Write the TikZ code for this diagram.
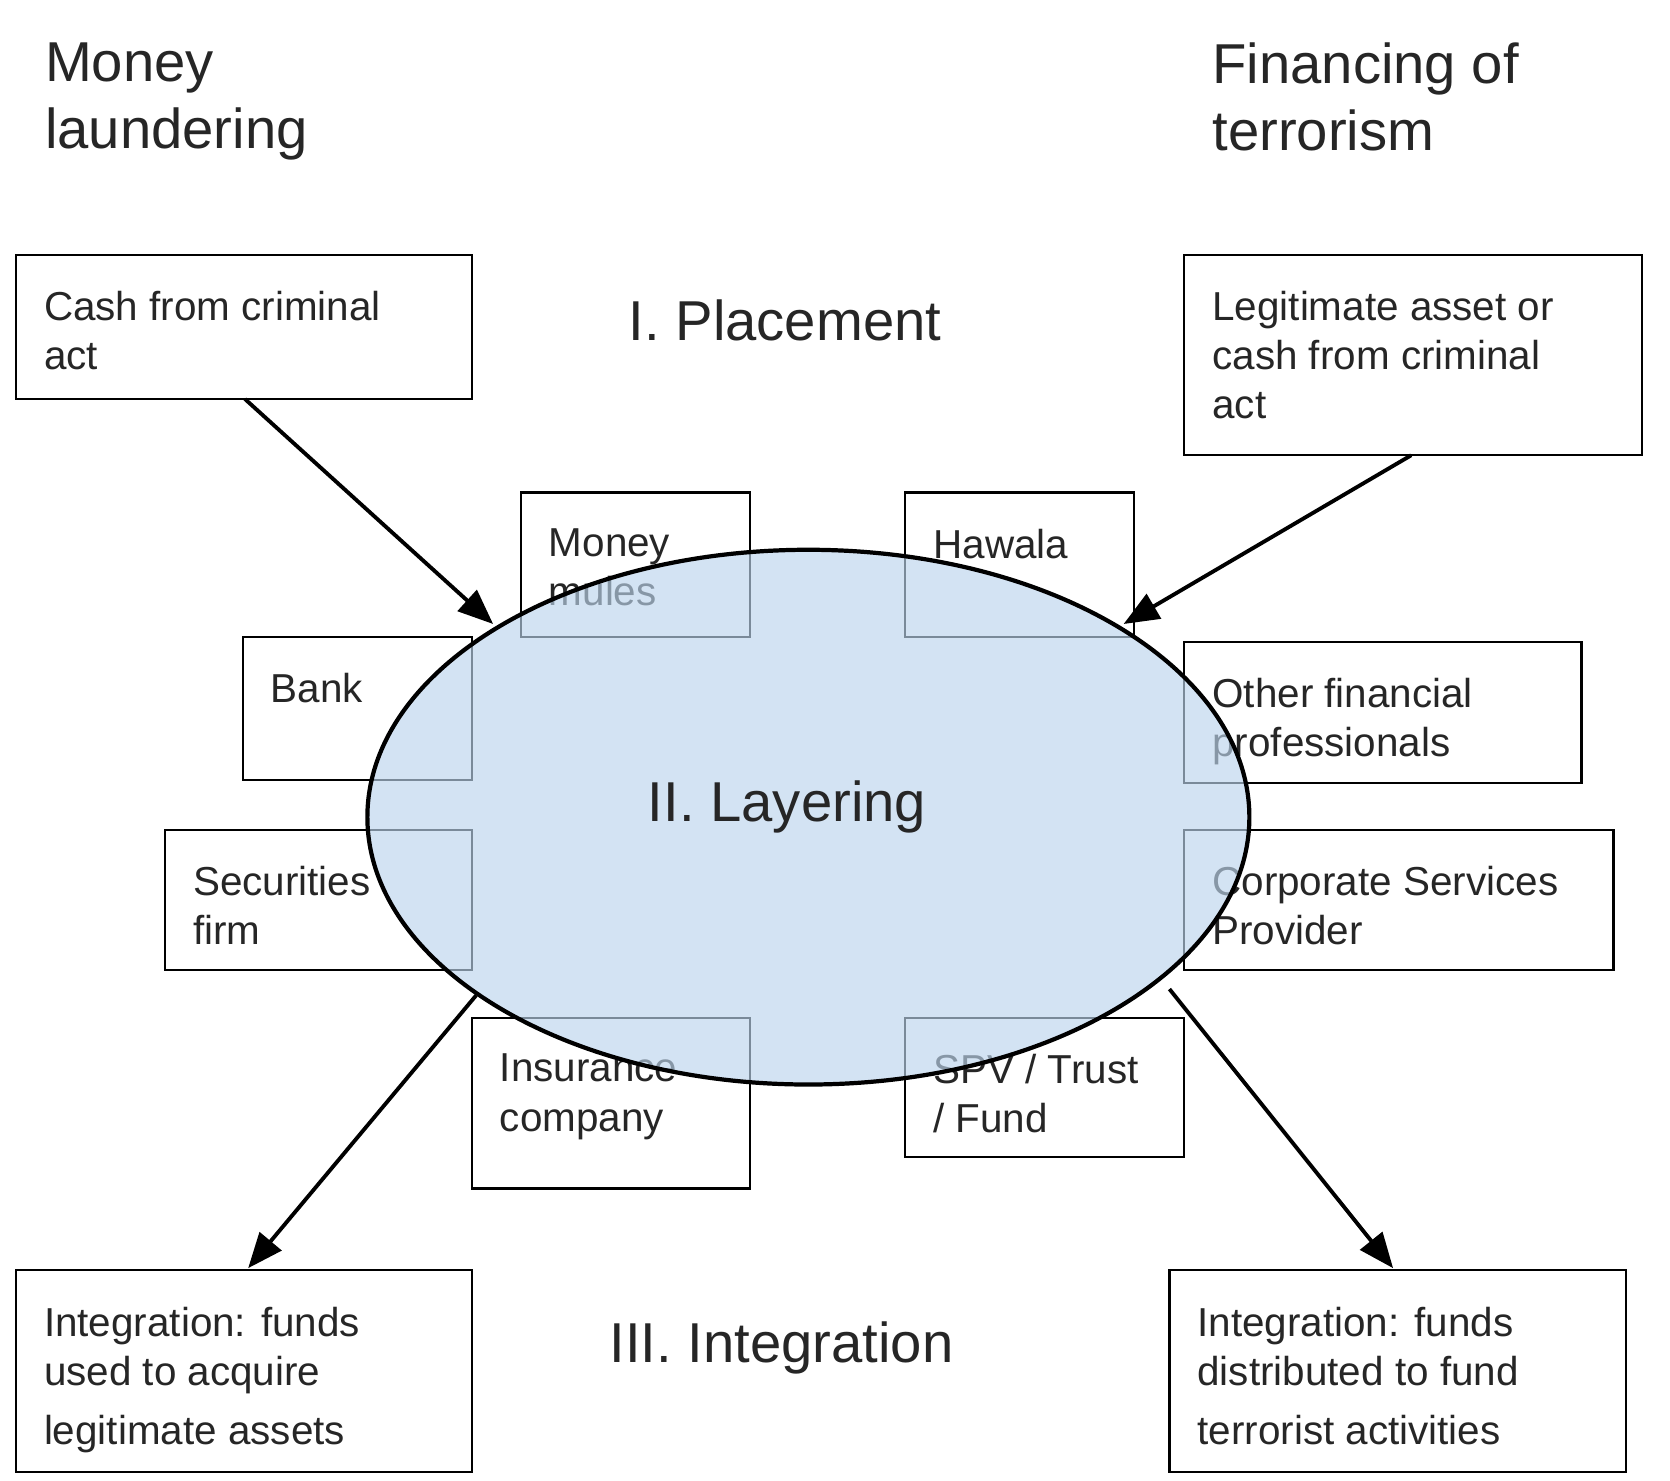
\documentclass[tikz,border=0pt]{standalone}
\usepackage{fontspec}
\setmainfont{Liberation Sans}
\usetikzlibrary{fit,arrows.meta,calc,shapes.geometric}
\definecolor{ellfill}{HTML}{BCD4EC}
\tikzset{
  box/.style={draw=black, line width=1.3pt, inner sep=0pt},
  lbl/.style={anchor=north west, align=left, inner sep=0pt, font=\fontsize{23}{28}\selectfont, text=black!85},
  big/.style={anchor=north west, align=left, inner sep=0pt, font=\fontsize{32}{38}\selectfont, text=black!85},
  arr/.style={line width=2.2pt, -{Triangle[length=20pt,width=16pt]}}
}
\newcommand{\mybox}[6]{%
  \node[box, fit={(#2,#3)(#4,#5)}] (#1) {};
  \node[lbl] at ($(#2,#3)+(26,34)$) {#6};}
\begin{document}
\begin{tikzpicture}[x=0.0213cm, y=-0.02122cm]
\useasboundingbox (0,0) rectangle (1568,1395);
\node[big] (ml) at (42,40) {Money\\laundering};
\node[big] (ft) at (1138,40) {Financing of\\terrorism};
\node[big] (pl) at (590,282) {I. Placement};
\node[big] (ig) at (572,1245) {III. Integration};

\mybox{cash}{15}{240}{443}{376}{Cash from criminal\\act}
\mybox{legit}{1112}{240}{1542}{429}{Legitimate asset or\\cash from criminal\\act}
\mybox{mules}{489}{464}{704}{600}{Money\\mules}
\mybox{hawala}{850}{464}{1065}{600}{Hawala}
\mybox{bank}{228}{600}{443}{735}{Bank}
\mybox{other}{1112}{605}{1485}{738}{Other financial\\professionals}
\mybox{sec}{155}{782}{443}{914}{Securities\\firm}
\mybox{corp}{1112}{782}{1515}{914}{Corporate Services\\Provider}
\mybox{ins}{443}{959}{704}{1120}{Insurance\\company}
\mybox{spv}{850}{959}{1112}{1090}{SPV / Trust\\/ Fund}
\mybox{intl}{15}{1197}{443}{1387}{Integration: funds\\used to acquire\\[6pt]legitimate assets}
\mybox{intr}{1098}{1197}{1527}{1387}{Integration: funds\\distributed to fund\\[6pt]terrorist activities}

\node[draw=black, line width=2.4pt, fill=ellfill, fill opacity=0.65, ellipse, minimum width=17.64cm, minimum height=10.695cm, inner sep=0pt] (lay) at (759,770) {};
\node[big] (layt) at (608,735) {II. Layering};

\coordinate (a1) at (463,588);
\coordinate (a2) at (1055,588);
\coordinate (b1) at (447,938);
\coordinate (b2) at (1098,932);
\coordinate (c1) at (230,376);
\coordinate (c2) at (1325,429);
\coordinate (d1) at (233,1195);
\coordinate (d2) at (1308,1195);
\draw[arr] (c1) -- (a1);
\draw[arr] (c2) -- (a2);
\draw[arr] (b1) -- (d1);
\draw[arr] (b2) -- (d2);
\end{tikzpicture}
\end{document}
